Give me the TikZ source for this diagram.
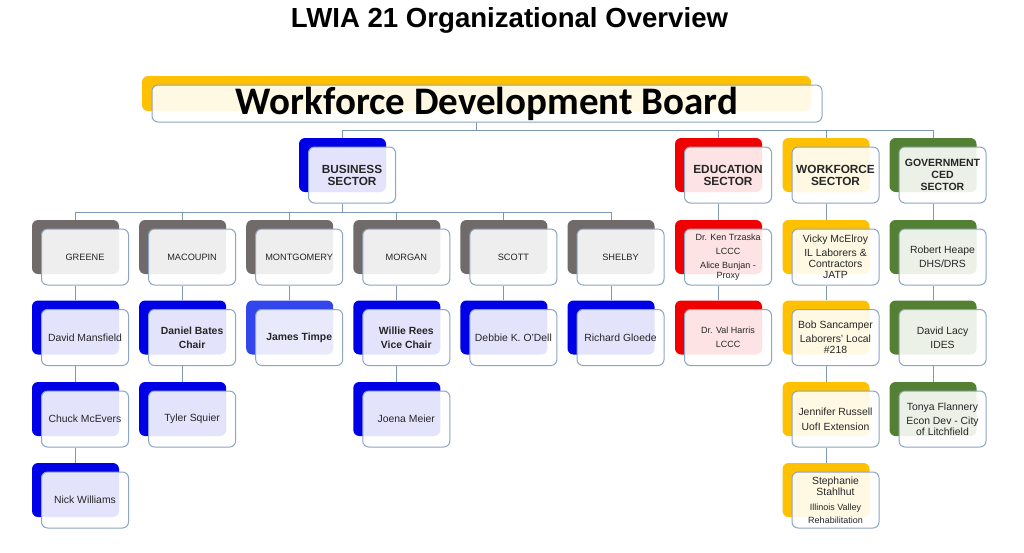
\documentclass[tikz,border=0pt]{standalone}
\usepackage{fontspec}
\setmainfont{Liberation Sans}
\newfontfamily\boardfont{Carlito}
\usetikzlibrary{calc}
\definecolor{bizblue}{RGB}{0,0,230}
\definecolor{timpeblue}{RGB}{50,70,235}
\definecolor{cntygrey}{RGB}{112,106,106}
\definecolor{edured}{RGB}{240,0,0}
\definecolor{wfgold}{RGB}{255,192,0}
\definecolor{govgreen}{RGB}{84,128,52}
\definecolor{cardedge}{RGB}{140,165,192}
\definecolor{linkcol}{RGB}{125,152,180}
\newcommand*{\cardw}{87pt}
\newcommand*{\cardh}{54pt}
\newcommand*{\secfont}{\bfseries\fontsize{11.8}{12.5}\selectfont}
\newcommand*{\cntyfont}{\fontsize{9.2}{10}\selectfont}
\newcommand*{\smfont}{\fontsize{9}{10}\selectfont}
\newcommand*{\card}[4]{%
  \node [back, fill=#3] (#1) at (#2) {};
  \node [front] (#1-f) at ([shift={(9.5,10)}]#1.center) {#4};}

\begin{document}
\begin{tikzpicture}[x=1pt, y=-1pt,
    font=\fontsize{10.4}{12}\selectfont,
    back/.style  = {minimum width=\cardw, minimum height=\cardh, inner sep=0pt, rounded corners=6pt, draw=none},
    front/.style = {minimum width=\cardw, minimum height=56pt, inner sep=1pt, rounded corners=6pt, fill=white, fill opacity=.89, text opacity=1, draw=cardedge, line width=1pt, align=center, text=black!85},
    link/.style  = {draw=linkcol, line width=1pt}]
    \useasboundingbox (0,0) rectangle (1024,552);
    \node [anchor=base, font=\bfseries\fontsize{27.6}{30}\selectfont] (title) at (509.5,27) {LWIA 21 Organizational Overview};
    \node [back, fill=wfgold, minimum width=669pt, minimum height=35pt] (board) at (476.5,93.5) {};
    \node [front, minimum width=670pt, minimum height=37pt, inner sep=0pt, text=black, font=\boardfont\bfseries\fontsize{39}{40}\selectfont] (board-f) at (487,103.5) {Workforce Development Board};
    % sectors
    \card{bus}{342.5,165}{bizblue}{\secfont BUSINESS\\\secfont SECTOR}
    \card{edu}{718.5,165}{edured}{\secfont EDUCATION\\\secfont SECTOR}
    \card{wf}{826,165}{wfgold}{\secfont WORKFORCE\\\secfont SECTOR}
    \card{gov}{933,165}{govgreen}{\bfseries\fontsize{10.5}{12}\selectfont GOVERNMENT\\\bfseries\fontsize{10.5}{12}\selectfont CED\\\bfseries\fontsize{10.5}{12}\selectfont SECTOR}
    % counties
    \card{gre}{75.5,247}{cntygrey}{\cntyfont GREENE}
    \card{mac}{182.6,247}{cntygrey}{\cntyfont MACOUPIN}
    \card{mon}{289.7,247}{cntygrey}{\cntyfont MONTGOMERY}
    \card{mor}{396.8,247}{cntygrey}{\cntyfont MORGAN}
    \card{sco}{503.9,247}{cntygrey}{\cntyfont SCOTT}
    \card{she}{611,247}{cntygrey}{\cntyfont SHELBY}
    \card{kt}{718.5,247}{edured}{\smfont Dr. Ken Trzaska\\[2pt]\smfont LCCC\\[2pt]\smfont Alice Bunjan -\\[-2pt]\smfont Proxy}
    \card{vm}{826,247}{wfgold}{Vicky McElroy\\[2pt]IL Laborers \&\\[-1pt]Contractors\\[-1pt]JATP}
    \card{rh}{933,247}{govgreen}{Robert Heape\\[2pt]DHS/DRS}
    % members
    \card{dm}{75.5,327.5}{bizblue}{David Mansfield}
    \card{db}{182.6,327.5}{bizblue}{\bfseries Daniel Bates\\[2pt]\bfseries Chair}
    \card{jt}{289.7,327.5}{timpeblue}{\bfseries James Timpe}
    \card{wr}{396.8,327.5}{bizblue}{\bfseries Willie Rees\\[2pt]\bfseries Vice Chair}
    \card{do}{503.9,327.5}{bizblue}{Debbie K. O'Dell}
    \card{rg}{611,327.5}{bizblue}{Richard Gloede}
    \card{vh}{718.5,327.5}{edured}{\smfont Dr. Val Harris\\[2pt]\smfont LCCC}
    \card{bs}{826,327.5}{wfgold}{Bob Sancamper\\[2pt]Laborers' Local\\[-1pt]\#218}
    \card{dl}{933,327.5}{govgreen}{David Lacy\\[2pt]IDES}
    \card{cm}{75.5,409}{bizblue}{Chuck McEvers}
    \card{ts}{182.6,409}{bizblue}{Tyler Squier}
    \card{jm}{396.8,409}{bizblue}{Joena Meier}
    \card{jr}{826,409}{wfgold}{Jennifer Russell\\[3pt]UofI Extension}
    \card{tf}{933,409}{govgreen}{Tonya Flannery\\[2pt]Econ Dev - City\\[-1pt]of Litchfield}
    \card{nw}{75.5,490}{bizblue}{Nick Williams}
    \card{ss}{826,490}{wfgold}{Stephanie\\[-1pt]Stahlhut\\[3pt]\smfont Illinois Valley\\[1pt]\smfont Rehabilitation}
    % connectors
    \foreach \s in {bus,edu,wf,gov}
        \draw [link] (board |- board-f.south) -- ++(0,8) -| (\s.north);
    \foreach \c in {gre,mac,mon,mor,sco,she}
        \draw [link] (bus |- bus-f.south) -- ++(0,8.5) -| (\c.north);
    \foreach \a/\b in {gre/dm,dm/cm,cm/nw,mac/db,db/ts,mon/jt,mor/wr,wr/jm,sco/do,she/rg,edu/kt,kt/vh,wf/vm,vm/bs,bs/jr,jr/ss,gov/rh,rh/dl,dl/tf}
        \draw [link] (\a |- \a-f.south) -- (\b.north);
\end{tikzpicture}
\end{document}
